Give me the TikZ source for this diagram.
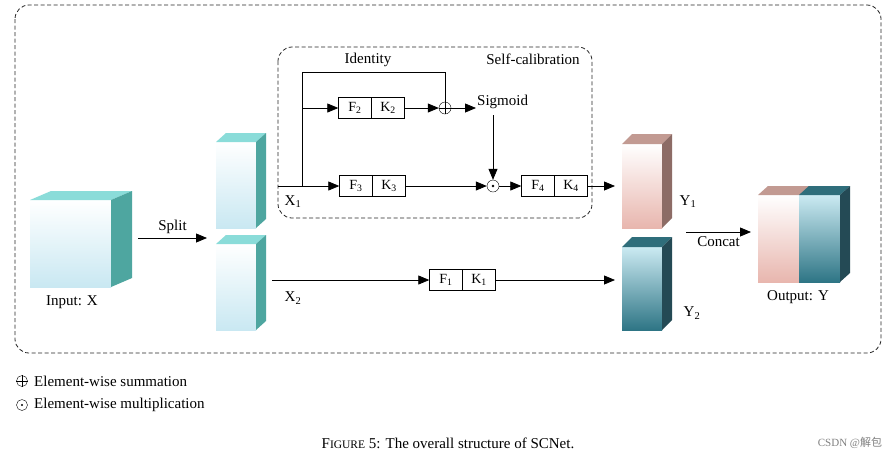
\documentclass[tikz,border=0pt]{standalone}
\usepackage{fontspec}
\setmainfont{Liberation Serif}
\newfontfamily\cjk{Noto Sans CJK SC}
\usetikzlibrary{arrows.meta}
\definecolor{cT}{HTML}{8ADCD9}\definecolor{cS}{HTML}{4EA6A0}\definecolor{cB}{HTML}{C9E8F2}
\definecolor{pT}{HTML}{C29A92}\definecolor{pS}{HTML}{8D6C66}\definecolor{pB}{HTML}{E8B6AE}
\definecolor{tT}{HTML}{2F6E7B}\definecolor{tS}{HTML}{244A55}\definecolor{tB}{HTML}{2E7585}\definecolor{tF}{HTML}{CBEAF2}
% #1 x,#2 top y,#3 w,#4 h,#5 dx,#6 dy,#7 front top,#8 front bottom,#9 top/side prefix
\newcommand\blk[9]{%
 \shade[top color=#7,bottom color=#8] (#1,#2) rectangle ++(#3,#4);
 \fill[#9T] (#1,#2) -- ++(#5,-#6) -- ++(#3,0) -- ++(-#5,#6) -- cycle;
 \fill[#9S] (#1+#3,#2) -- ++(#5,-#6) -- ++(0,#4) -- ++(-#5,#6) -- cycle;}
\newcommand\sbs[1]{\textsubscript{#1}}
\tikzset{
 t/.style={font=\fontsize{15}{17}\selectfont,inner sep=1pt},
 fk/.style={draw,minimum width=33pt,minimum height=21pt,inner sep=0pt,font=\fontsize{14}{16}\selectfont},
 ar/.style={-{Triangle[length=11pt,width=9pt]},line width=0.8pt},
 ln/.style={line width=0.8pt},
 op/.style={circle,draw,minimum size=12pt,inner sep=0pt},
 dsh/.style={draw=black!85,line width=0.8pt,rounded corners=14pt,dash pattern=on 4pt off 2.5pt}}
\begin{document}
\begin{tikzpicture}[x=1pt,y=-1pt]
\useasboundingbox (0,0) rectangle (896,459);
\fill[white] (0,0) rectangle (896,459);
\draw[dsh] (15,5) rectangle (881,353);
\draw[dsh] (278,47) rectangle (592,218);
% blocks
\blk{30}{200}{81}{87}{21}{9}{white}{cB}{c}
\blk{216}{142}{40}{86}{10}{9}{white}{cB}{c}
\blk{216}{244}{40}{86}{10}{9}{white}{cB}{c}
\blk{622}{144}{40}{84}{10}{10}{white}{pB}{p}
\blk{622}{247}{40}{83}{10}{10}{tF}{tB}{t}
\blk{758}{195}{41}{87}{10}{9}{white}{pB}{p}
\blk{799}{195}{41}{87}{10}{9}{tF}{tB}{t}
\node[t] (in) at (72,302) {Input: X};
\node[t] (out) at (798,297) {Output: Y};
\coordinate (s1) at (138,238); \coordinate (s2) at (207,238);
\draw[ar] (s1) -- node[t,above=3pt] {Split} (s2);
\node[t] (x1) at (293,202) {X\sbs{1}};
\node[t] (x2) at (293,298) {X\sbs{2}};
\node[t] (y1) at (688,202) {Y\sbs{1}};
\node[t] (y2) at (692,313) {Y\sbs{2}};
\coordinate (c1) at (686,232); \coordinate (c2) at (751,232);
\draw[ar] (c1) -- node[t,below=3pt] {Concat} (c2);
% self-calibration
\node[t] (id) at (368,60) {Identity};
\node[t] (sc) at (533,59) {Self-calibration};
\node[fk] (f2) at (355,108) {F\sbs{2}}; \node[fk] (k2) at (388,108) {K\sbs{2}};
\node[fk] (f3) at (356,186) {F\sbs{3}}; \node[fk] (k3) at (389,186) {K\sbs{3}};
\node[fk] (f4) at (538,186) {F\sbs{4}}; \node[fk] (k4) at (571,186) {K\sbs{4}};
\node[fk] (f1) at (446,280) {F\sbs{1}}; \node[fk] (k1) at (479,280) {K\sbs{1}};
\node[op] (sum) at (445,108) {}; \draw (sum.north)--(sum.south) (sum.west)--(sum.east);
\node[op] (mul) at (493,186) {}; \fill (mul) circle (1.3pt);
\node[t,anchor=west] (sig) at (476,102) {Sigmoid};
\coordinate (sg) at (476,108);
\coordinate (a0) at (278,186); \coordinate (a1) at (302,186);
\coordinate (a2) at (302,72); \coordinate (a3) at (445,72);
\draw[ln] (a0) -- (a1) -- (a2) -- (a3) -- (sum);
\draw[ar] (a1) -- (f3);
\draw[ar] (302,108) -- (f2);
\draw[ar] (k2) -- (sum);
\draw[ar] (sum) -- (sg);
\draw[ar] (493,115) -- (mul);
\draw[ar] (k3) -- (mul);
\draw[ar] (mul) -- (f4);
\coordinate (e1) at (615,186); \draw[ar] (k4) -- (e1);
\coordinate (b0) at (272,280); \coordinate (e2) at (615,280);
\draw[ar] (b0) -- (f1); \draw[ar] (k1) -- (e2);
% legend
\node[op,minimum size=11pt] (ls) at (22,381) {}; \draw (ls.north)--(ls.south) (ls.west)--(ls.east);
\node[t,anchor=west] (lst) at (33,381) {Element-wise summation};
\node[op,minimum size=11pt] (lm) at (22,405) {}; \fill (lm) circle (1.1pt);
\node[t,anchor=west] (lmt) at (33,405) {Element-wise multiplication};
\node[t] (cap) at (448,443) {F{\fontsize{11.5}{13}\selectfont IGURE} 5: The overall structure of SCNet.};
\node[inner sep=0pt,text=gray,font=\fontsize{11}{12}\selectfont] (wm) at (850,443) {CSDN @{\cjk 解包}};
\end{tikzpicture}
\end{document}
